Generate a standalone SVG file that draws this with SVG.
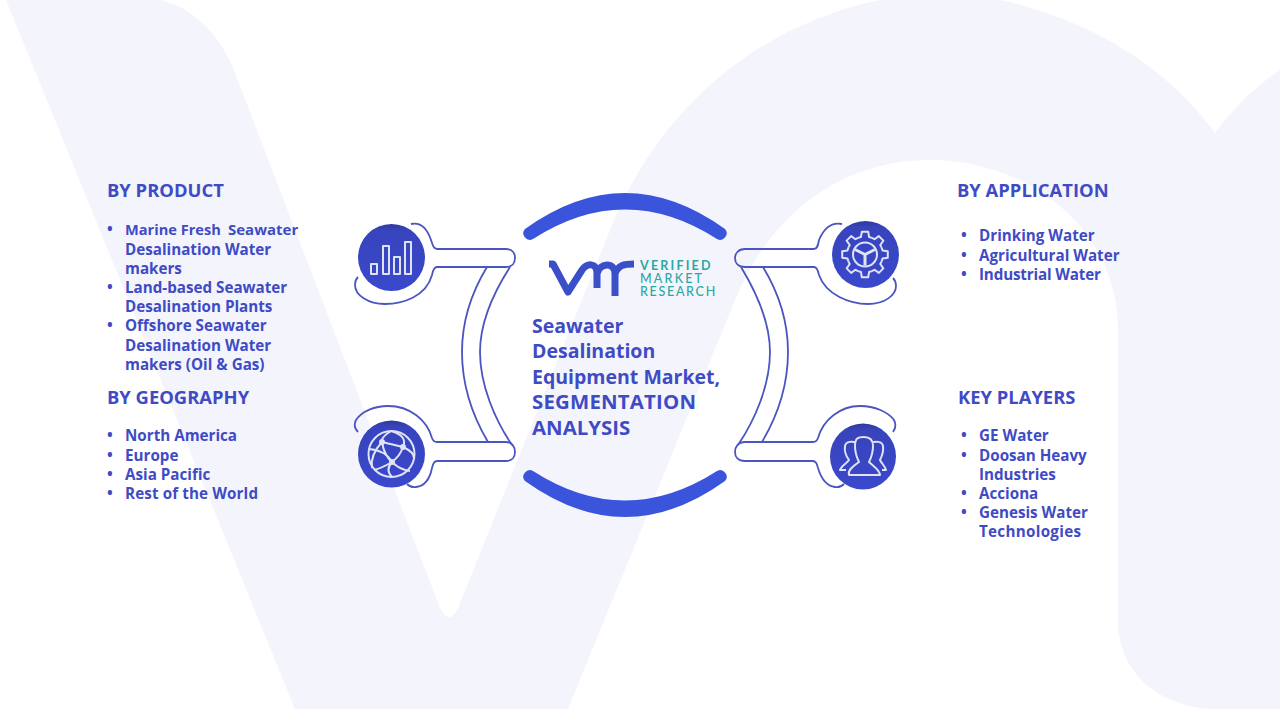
<svg xmlns="http://www.w3.org/2000/svg" width="1280" height="720" viewBox="0 0 1280 720">
<style>
text{font-family:"Open Sans","Noto Sans",sans-serif;font-weight:700;fill:#3f4bc4}
.h{font-size:18.400px}
.t{font-size:15.200px}
.b{font-size:19.500px}
.c{font-size:20.400px}
.l{fill:none;stroke:#4a55c0;stroke-width:1.8}
.i{fill:none;stroke:#dfe3f7;stroke-width:2;stroke-linejoin:round}
.d{fill:url(#disc)}
.a{fill:#3b54dc}
.v{font-family:"Lato","Open Sans",sans-serif;font-size:12.500px;fill:#2aa8a4;letter-spacing:2.200px;font-weight:500}
</style>
<defs>
<linearGradient id="disc" x1="0" y1="0" x2="0" y2="1">
<stop offset="0" stop-color="#2f3a9e"/><stop offset=".1" stop-color="#3844bc"/><stop offset="1" stop-color="#3a48cc"/>
</linearGradient>
<path id="tooth" d="M-6.89-16.63L-4.05-17.54L-3.2-22.78H3.2L4.05-17.54L6.89-16.63"/>
</defs>
<rect width="1280" height="720" fill="#fff"/>
<path id="bg" fill="#f4f5fc" d="M6 0H160C195 8 218 35 232 65L440 608Q449 626 458 608L610 230C660 105 760 25 880 0H1000C1090 20 1165 65 1215 133C1235 105 1258 85 1280 70V709H1210C1155 705 1118 670 1118 620V330C1118 230 1030 160 930 160C840 160 770 215 735 300L568 709H295Z"/>
<g id="connectors">
<path class="l" d="M411 224C420 222 427 228 431 240C433 246 434 249 437 249H506C513 249 515 254 515 258C515 263 512 267 506 267H437C434 267 433 270 432 275C426 297 402 304 385 304C368 304 355 295 355 285C355 282 356 279 358 277"/>
<path class="l" d="M487 267C470 295 462 325 462 352C462 385 472 415 488 442M510 267C492 295 480 325 480 352C480 385 495 420 512 445"/>
<path class="l" d="M358 432C354 428 354 424 356 420C362 411 375 406 388 406C410 406 427 420 432 438C433 441 434 442 437 442H506C512 442 515 447 515 452C515 457 512 461 506 461H437C434 461 433 463 432 468C430 478 425 486 416 487C411 488 409 486 407 484"/>
<path class="l" d="M763 267C780 295 788 325 788 352C788 385 778 415 762 442M741 267C758 295 770 325 770 352C770 385 755 420 738 445"/>
<path class="l" d="M842 224C832 222 824 228 819 240C818 246 817 249 814 249H745C738 249 735 254 735 258C735 263 738 267 745 267H814C817 267 818 270 819 275C826 295 850 304 868 304C885 304 896 295 896 286C896 283 895 280 893 278"/>
<path class="l" d="M893 432C896 428 896 424 894 420C888 412 875 406 860 406C840 406 823 420 818 438C817 441 816 442 813 442H745C738 442 735 447 735 452C735 457 738 461 745 461H813C816 461 817 463 818 468C821 478 826 486 835 487C840 488 842 486 844 484"/>
</g>
<g id="center">
<path class="a" d="M525 229Q625 157 725 229A6.500 6.500 0 0 1 717 239Q625 180 533 239A6.500 6.500 0 0 1 525 229Z"/>
<path class="a" d="M525 481Q625 553 725 481A6.500 6.500 0 0 0 717 471Q625 530 533 471A6.500 6.500 0 0 0 525 481Z"/>
<g id="logo">
<path fill="none" stroke="#3a4fc8" stroke-width="7" stroke-linejoin="round" d="M549 264H553L568 292L582 270C587 263 597 262 597 274V288M597 274C600 262 615 262 615 274V296M615 274C618 265 624 264 634 264"/>
<text class="v" x="640" y="270" style="font-weight:700">VERIFIED</text>
<text class="v" x="640" y="283">MARKET</text>
<text class="v" x="640" y="296" style="letter-spacing:1.700px">RESEARCH</text>
</g>
<g id="title">
<text class="b" x="532" y="333">Seawater</text>
<text class="b" x="532" y="358">Desalination</text>
<text class="b" x="532" y="384">Equipment Market,</text>
<text class="c" x="532" y="409" textLength="164">SEGMENTATION</text>
<text class="c" x="532" y="435">ANALYSIS</text>
</g>
</g>
<g id="icon-product">
<circle class="d" cx="391.500" cy="257.500" r="33.500"/>
<path class="i" d="M371 264h6v10h-6zM383 246h6v28h-6zM394 257h6v17h-6zM405 242h6v32h-6z"/>
</g>
<g id="icon-geography">
<circle class="d" cx="391.500" cy="454" r="33.500"/>
<circle class="i" cx="391.500" cy="454" r="23" stroke-width="2.500"/>
<path class="i" d="M369 449Q385 450 392 462Q400 470 410 471M391 431Q380 438 382 442Q395 445 403 447Q408 436 391 431M382 442Q370 455 372 468M403 447Q400 456 392 462Q382 468 374 470M382 442Q384 455 392 462M392 462Q385 470 392 477M403 447Q414 452 414 458"/>
<circle cx="382" cy="442" r="3" fill="#dfe3f7"/><circle cx="403" cy="447" r="3" fill="#dfe3f7"/><circle cx="392" cy="462" r="3" fill="#dfe3f7"/>
</g>
<g id="icon-application">
<circle class="d" cx="865.500" cy="254.500" r="33.500"/>
<g class="i" transform="translate(865 254.500)">
<use href="#tooth"/><use href="#tooth" transform="rotate(45)"/><use href="#tooth" transform="rotate(90)"/><use href="#tooth" transform="rotate(135)"/><use href="#tooth" transform="rotate(180)"/><use href="#tooth" transform="rotate(225)"/><use href="#tooth" transform="rotate(270)"/><use href="#tooth" transform="rotate(315)"/>
<circle r="12"/>
<path d="M-10-5L0 0L10-5M0 0V11" stroke-width="3"/>
</g>
</g>
<g id="icon-players">
<circle class="d" cx="863" cy="456.500" r="33"/>
<path class="i" d="M849 475C847 470 855 465 859 462C856 456 855 450 855 446C855 438 858 437 864 437C870 437 873 440 873 446C873 452 871 458 869 462C873 466 880 470 880 475ZM856 443C853 441 846 441 845 446C844 452 846 456 849 460C846 464 841 466 840 470H846M872 443C875 441 882 441 883 446C884 452 882 456 880 460C882 464 885 466 886 470H882"/>
</g>
<g id="by-product">
<text class="h" x="107" y="197">BY PRODUCT</text>
<g class="t">
<text x="107" y="234">•</text>
<text x="125" y="235" style="font-size:14.600px">Marine Fresh <tspan x="228" style="font-size:15px">Seawater</tspan></text>
<text x="125" y="255">Desalination Water</text>
<text x="125" y="274">makers</text>
<text x="107" y="292">•</text>
<text x="125" y="293">Land-based Seawater</text>
<text x="125" y="312">Desalination Plants</text>
<text x="107" y="330">•</text>
<text x="125" y="331">Offshore Seawater</text>
<text x="125" y="351">Desalination Water</text>
<text x="125" y="370">makers (Oil &amp; Gas)</text>
</g>
</g>
<g id="by-geography">
<text class="h" x="107" y="404">BY GEOGRAPHY</text>
<g class="t">
<text x="107" y="440">•</text><text x="125" y="441">North America</text>
<text x="107" y="460">•</text><text x="125" y="461">Europe</text>
<text x="107" y="479">•</text><text x="125" y="480">Asia Pacific</text>
<text x="107" y="498">•</text><text x="125" y="499" textLength="133">Rest of the World</text>
</g>
</g>
<g id="by-application">
<text class="h" x="957" y="197">BY APPLICATION</text>
<g class="t">
<text x="961" y="240">•</text><text x="979" y="241">Drinking Water</text>
<text x="961" y="260">•</text><text x="979" y="261">Agricultural Water</text>
<text x="961" y="279">•</text><text x="979" y="280" textLength="122">Industrial Water</text>
</g>
</g>
<g id="key-players">
<text class="h" x="958" y="404">KEY PLAYERS</text>
<g class="t">
<text x="961" y="440">•</text><text x="979" y="441">GE Water</text>
<text x="961" y="460">•</text><text x="979" y="461">Doosan Heavy</text>
<text x="979" y="480">Industries</text>
<text x="961" y="498">•</text><text x="979" y="499">Acciona</text>
<text x="961" y="517">•</text><text x="979" y="518">Genesis Water</text>
<text x="979" y="537" textLength="102">Technologies</text>
</g>
</g>
</svg>
